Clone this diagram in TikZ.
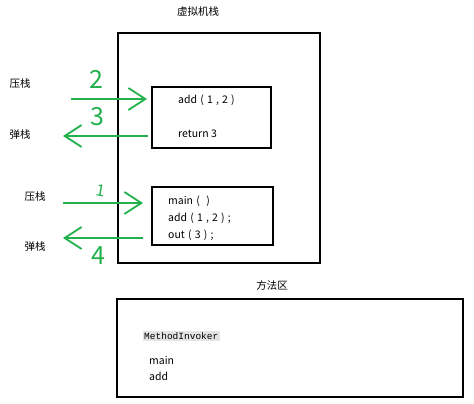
\documentclass[tikz,border=0pt]{standalone}
\usepackage{fontspec}
\setmainfont{Noto Sans CJK SC}
\newfontfamily\codefont{Liberation Mono}
\usetikzlibrary{arrows.meta,positioning}
\definecolor{paintgreen}{HTML}{22B14C}
\definecolor{codebg}{HTML}{E4E4E4}
\newcommand{\gp}{\hspace{3.2pt}}
\tikzset{frame/.style={draw,line width=1.6pt,inner sep=0pt},
  txt/.style={anchor=west,inner sep=0pt},
  digit/.style={text=paintgreen,font=\fontsize{25}{25}\selectfont,inner sep=0pt},
  hand/.style={paintgreen,line width=1.8pt,-{Straight Barb[length=17pt,width=22pt,line width=1.8pt]}}}
\begin{document}
\begin{tikzpicture}[x=1pt,y=-1pt,font=\fontsize{10.5}{12}\selectfont]
\useasboundingbox (0,0) rectangle (474,404);
\fill[white] (0,0) rectangle (474,404);
% virtual machine stack
\node[frame,minimum width=202pt,minimum height=230pt] (stack) at (219,148) {};
\node (stacklbl) at (198,12) {虚拟机栈};
\node[frame,minimum width=119pt,minimum height=61pt] (upper) at (211.5,117.5) {};
\node[frame,minimum width=121pt,minimum height=58pt] (lower) at (212.5,216) {};
\node[txt] (addcall) at (178,100) {add\gp(\gp1\gp,\gp2\gp)};
\node[txt] (ret) at (178,134) {return 3};
\node[txt] (mainl) at (168,201) {main\gp(\gp\gp)};
\node[txt] (addl) at (168,218) {add\gp(\gp1\gp,\gp2\gp)\gp;};
\node[txt] (outl) at (168,235) {out\gp(\gp3\gp)\gp;};
% push / pop labels
\foreach \n/\x/\y/\t in {pusha/20/84/压栈, popa/20/135/弹栈, pushb/35/197/压栈, popb/35/247/弹栈}
  \node (\n) at (\x,\y) {\t};
\foreach \n/\xa/\xb/\y in {inb/71/147/99, outb/148/63/136, ina/63/143/203, outa/143/63/238}{
  \coordinate (\n s) at (\xa,\y); \coordinate (\n e) at (\xb,\y);
  \draw[hand] (\n s) -- (\n e);}
\node[digit] (two) at (96,79) {2};
\node[digit] (three) at (97,117) {3};
\node[digit,font=\fontsize{16}{16}\selectfont,rotate=-10] (one) at (101,191) {1};
\node[digit] (four) at (98,256) {4};
% method area
\node (methodlbl) at (272,285) {方法区};
\node[frame,minimum width=346pt,minimum height=98pt] (method) at (290,348) {};
\node[txt,fill=codebg,inner sep=1.5pt,font=\codefont\fontsize{9.5}{11}\selectfont] (invoker) at (142.5,336) {MethodInvoker};
\node[txt] (mmain) at (149,360) {main};
\node[txt] (madd) at (149,376) {add};
\end{tikzpicture}
\end{document}
